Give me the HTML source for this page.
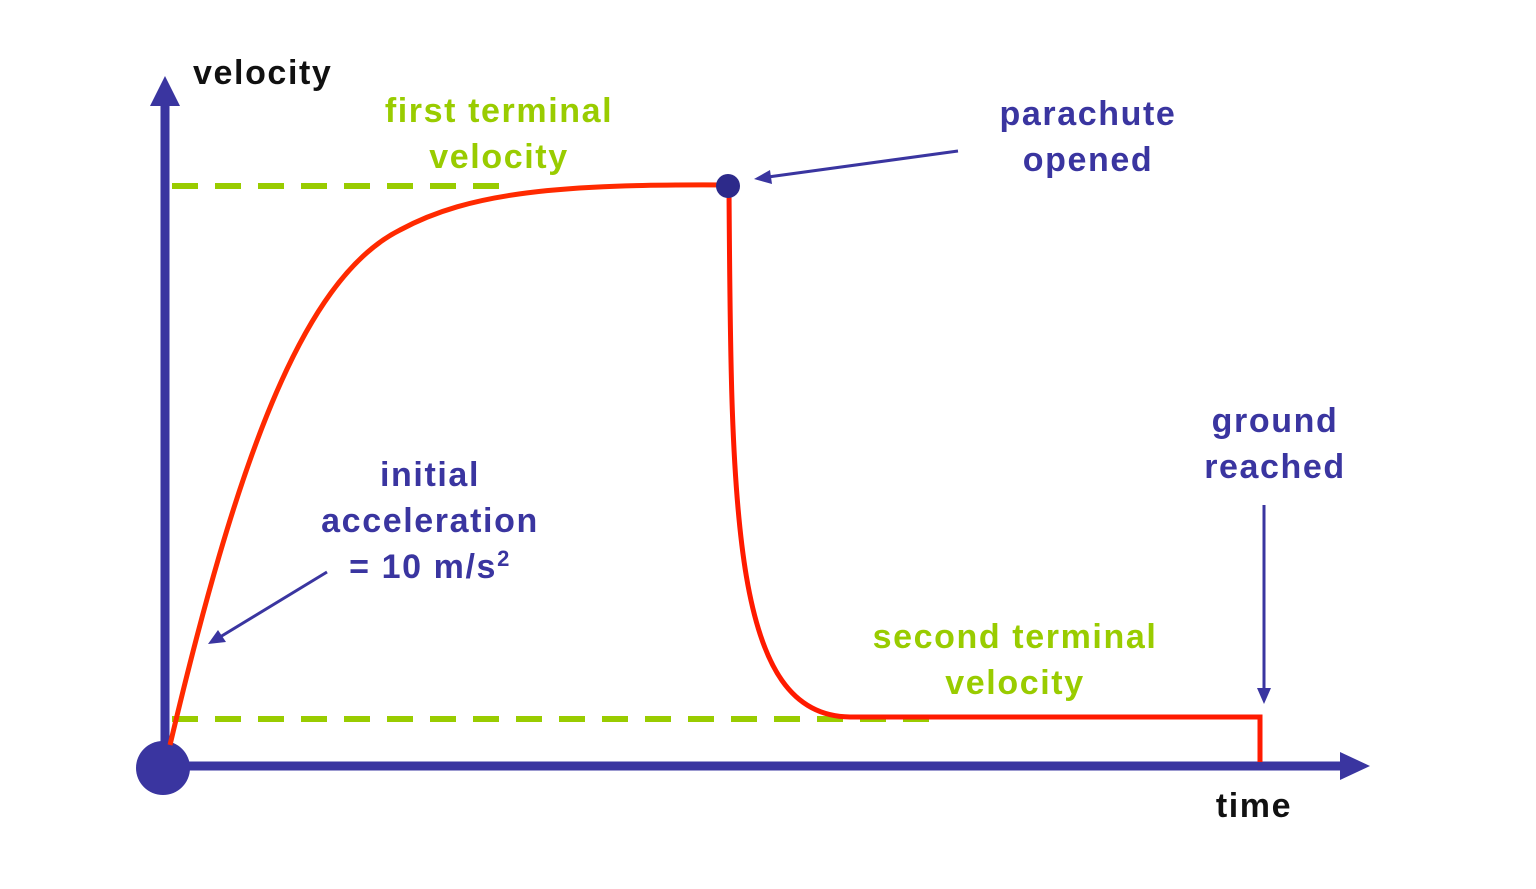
<!DOCTYPE html>
<html><head><style>
html,body{margin:0;padding:0;background:#fff;}
svg{display:block;}
text{font-family:"Liberation Sans",Arial,sans-serif;font-weight:bold;font-size:34px;letter-spacing:1.6px;}
.b{fill:#3a35a0;}
.g{fill:#99cc00;}
.k{fill:#111;}
</style></head><body>
<svg width="1536" height="889" viewBox="0 0 1536 889" xmlns="http://www.w3.org/2000/svg">
<rect width="1536" height="889" fill="#fff"/>
<line x1="172" y1="186" x2="505" y2="186" stroke="#99cc00" stroke-width="6" stroke-dasharray="26,17"/>
<line x1="172" y1="719" x2="935" y2="719" stroke="#99cc00" stroke-width="6" stroke-dasharray="26,17"/>
<line x1="165" y1="765" x2="165" y2="100" stroke="#3a35a0" stroke-width="9"/>
<polygon points="150,106 180,106 165,76" fill="#3a35a0"/>
<line x1="165" y1="766" x2="1345" y2="766" stroke="#3a35a0" stroke-width="9"/>
<polygon points="1340,752 1340,780 1370,766" fill="#3a35a0"/>
<ellipse cx="163" cy="768" rx="27" ry="27" fill="#3a35a0"/>
<path d="M170,745 C 235,470 300,280 400,230 C 470,192 560,184 728,185" fill="none" stroke="#ff2a00" stroke-width="5"/>
<path d="M729,186 C 731,520 733,716 850,717 L1260,717 L1260,762" fill="none" stroke="#ff1a00" stroke-width="5"/>
<circle cx="728" cy="186" r="12" fill="#2d2a8a"/>
<line x1="958" y1="151" x2="768" y2="177" stroke="#3a35a0" stroke-width="3"/>
<polygon points="754,179 770,170 772,184" fill="#3a35a0"/>
<line x1="327" y1="572" x2="220" y2="637" stroke="#3a35a0" stroke-width="3"/>
<polygon points="208,644 218,630 226,642" fill="#3a35a0"/>
<line x1="1264" y1="505" x2="1264" y2="690" stroke="#3a35a0" stroke-width="3"/>
<polygon points="1257,688 1271,688 1264,704" fill="#3a35a0"/>
<text class="k" x="193" y="84">velocity</text>
<text class="g" x="499" y="122" text-anchor="middle">first terminal</text>
<text class="g" x="499" y="168" text-anchor="middle">velocity</text>
<text class="b" x="1088" y="125" text-anchor="middle">parachute</text>
<text class="b" x="1088" y="171" text-anchor="middle">opened</text>
<text class="b" x="430" y="486" text-anchor="middle">initial</text>
<text class="b" x="430" y="532" text-anchor="middle">acceleration</text>
<text class="b" x="430" y="578" text-anchor="middle">= 10 m/s<tspan font-size="22" dy="-12">2</tspan></text>
<text class="b" x="1275" y="432" text-anchor="middle">ground</text>
<text class="b" x="1275" y="478" text-anchor="middle">reached</text>
<text class="g" x="1015" y="648" text-anchor="middle">second terminal</text>
<text class="g" x="1015" y="694" text-anchor="middle">velocity</text>
<text class="k" x="1254" y="817" text-anchor="middle">time</text>
</svg>
</body></html>
